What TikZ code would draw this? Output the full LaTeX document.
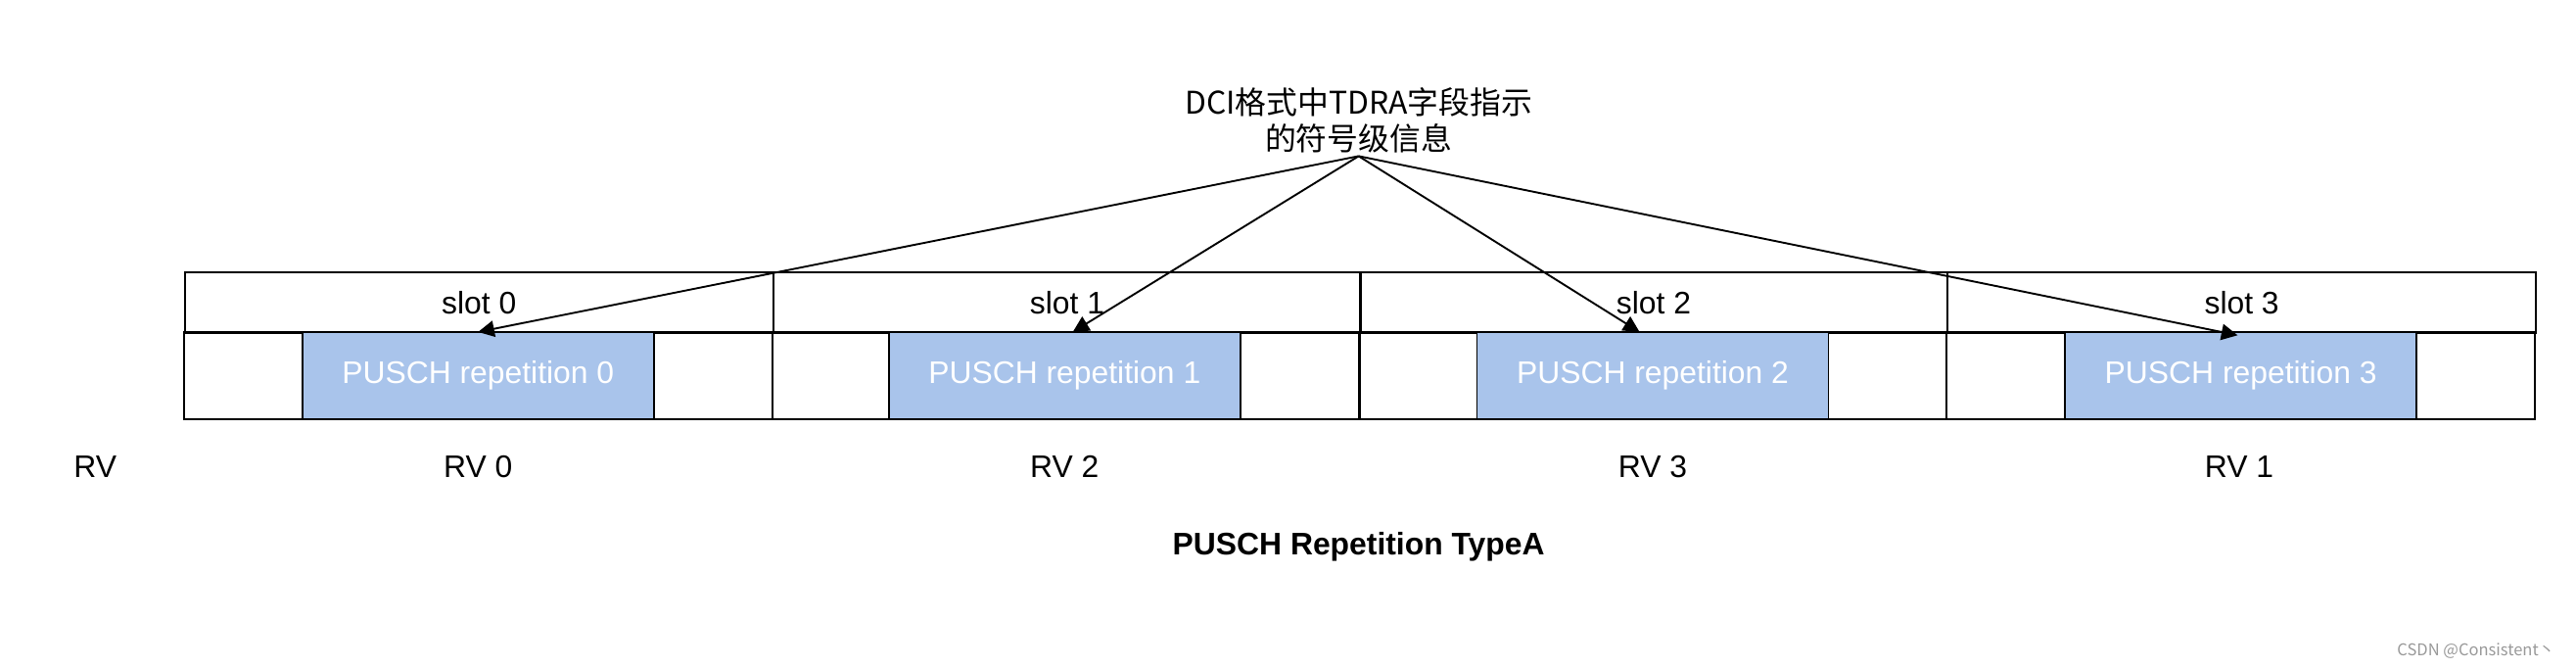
\documentclass[tikz,border=0pt]{standalone}
\usepackage{fontspec}
\setmainfont{Liberation Sans}
\newfontfamily\cjk{Noto Sans CJK SC}
\usetikzlibrary{arrows.meta}
\definecolor{rep}{HTML}{A9C4EB}
\definecolor{wm}{HTML}{999999}
\tikzset{
  cell/.style={draw, thick, minimum height=0.025cm*53, inner sep=0pt},
  slotcell/.style={draw, thick, minimum height=0.025cm*37, minimum width=0.025cm*358, inner sep=0pt},
  rep/.style={cell, fill=rep, text=white, minimum width=0.025cm*214},
  arr/.style={thick, -{Triangle[length=7pt,width=7pt]}}
}
\begin{document}
\begin{tikzpicture}[x=0.025cm, y=-0.025cm, font=\fontsize{13.5}{16}\selectfont]
\useasboundingbox (0,0) rectangle (1568,406);
% slot row and lower row
\foreach \i/\x in {0/112,1/470,2/827,3/1185}{
  \node[slotcell, anchor=north west] (s\i) at (\x,165) {slot \i};
  \draw[thick] (\x,202) rectangle ++(358,53);
}
\node[rep] (p0) at (291,228.5) {PUSCH repetition 0};
\node[rep] (p1) at (648,228.5) {PUSCH repetition 1};
\node[rep] (p2) at (1006,228.5) {PUSCH repetition 2};
\node[rep] (p3) at (1364,228.5) {PUSCH repetition 3};
\node (rv) at (58,284) {RV};
\node (rv0) at (291,284) {RV 0};
\node (rv1) at (648,284) {RV 2};
\node (rv2) at (1006,284) {RV 3};
\node (rv3) at (1363,284) {RV 1};
\node[font=\fontsize{13.5}{16}\selectfont\bfseries] (title) at (827,333) {PUSCH Repetition TypeA};
\node[align=center, inner sep=1pt, anchor=south, font=\fontsize{13.5}{16}\selectfont\cjk] (dci) at (827,95) {DCI格式中TDRA字段指示\\的符号级信息};
\coordinate (t0) at (291,202);
\coordinate (t1) at (653,202);
\coordinate (t2) at (998,202);
\coordinate (t3) at (1362,204);
\foreach \i in {0,...,3} \draw[arr] (dci.south) -- (t\i);
\node[text=wm, font=\fontsize{7}{8}\selectfont\cjk, anchor=east] (wm) at (1560,396) {CSDN @Consistent丶};
\end{tikzpicture}
\end{document}
